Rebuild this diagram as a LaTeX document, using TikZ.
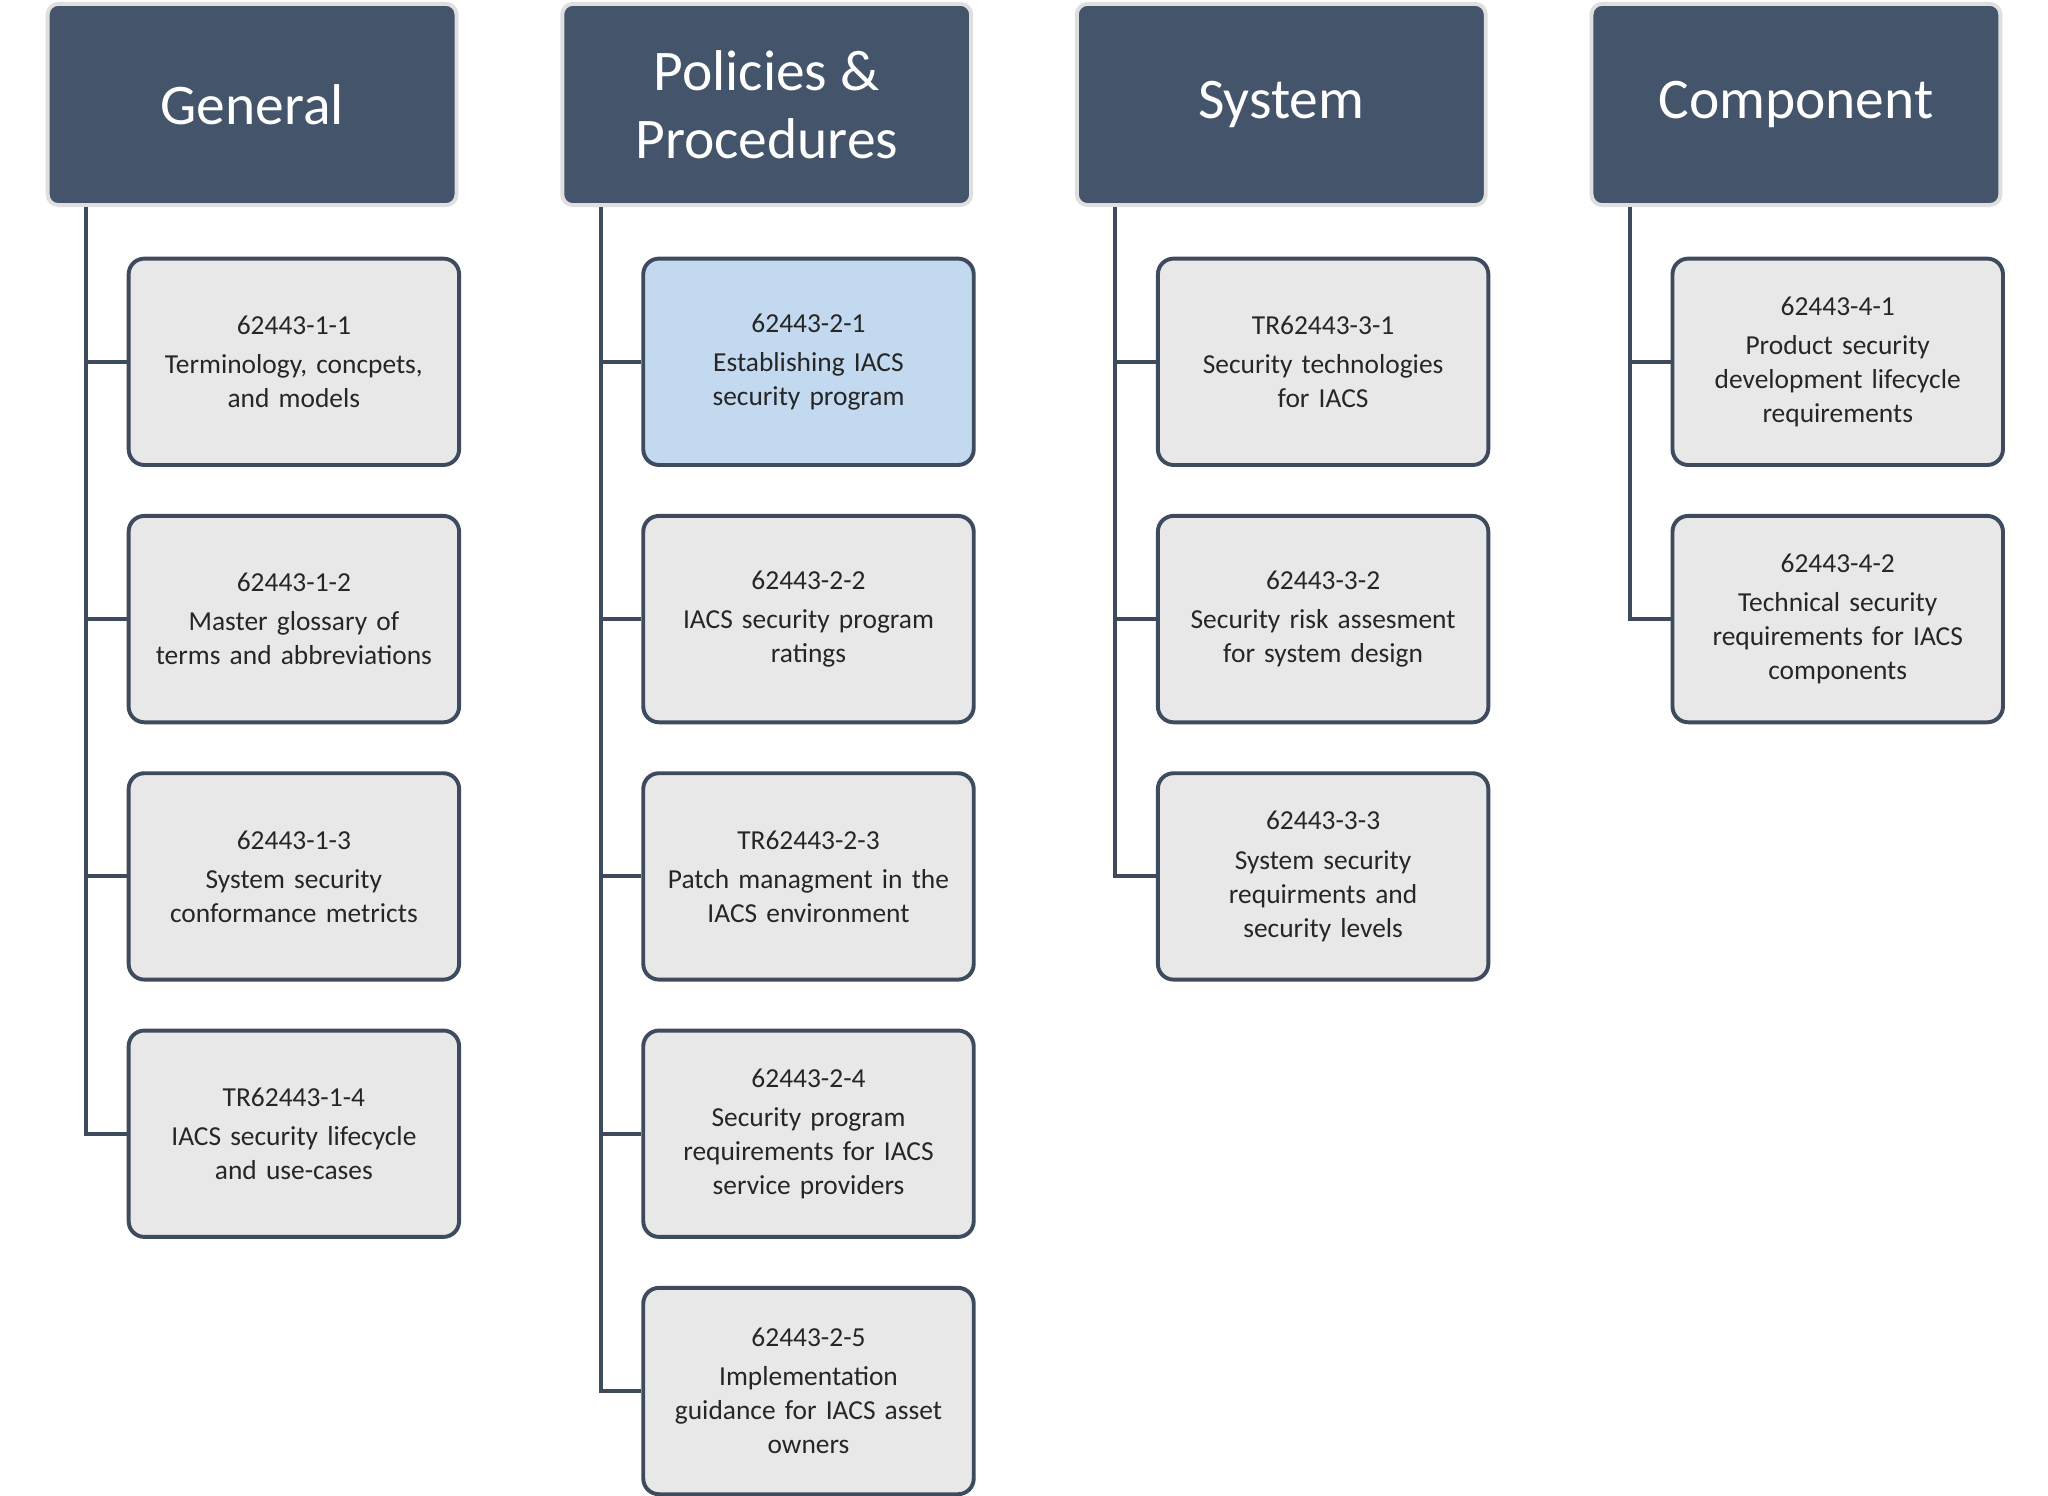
\documentclass[tikz,border=0pt]{standalone}
\usepackage{fontspec}
\setmainfont{Carlito}
\usetikzlibrary{positioning}
\definecolor{headblue}{HTML}{44546A}
\definecolor{boxgray}{HTML}{E8E8E8}
\definecolor{boxline}{HTML}{3E4B5E}
\definecolor{lightblue}{HTML}{C3D9EF}
\tikzset{
  head/.style={draw=gray!25, line width=3pt, fill=headblue, rounded corners=8pt,
    minimum width=313pt, minimum height=154pt, text=white,
    font=\fontsize{44}{52}\selectfont, align=center},
  item/.style={draw=boxline, line width=3pt, fill=boxgray, rounded corners=12pt,
    minimum width=253pt, minimum height=158pt, text width=245pt, align=center,
    font=\fontsize{21}{26}\selectfont, text=black!85},
  tree/.style={draw=boxline, line width=3pt}
}
\begin{document}
\begin{tikzpicture}[x=1pt, y=-1pt]
    \useasboundingbox (0,0) rectangle (1568,1145);
    % column headers
    \node[head] (General)   at (193,80)  {General};
    \node[head] (Policies)  at (587,80)  {Policies \&\\Procedures};
    \node[head] (System)    at (981,80)  {System};
    \node[head] (Component) at (1375,80) {Component};
    % General
    \node[item] (g1) at (225,277) {62443-1-1\\[4pt]Terminology, concpets,\\and models};
    \node[item] (g2) at (225,474) {62443-1-2\\[4pt]Master glossary of\\terms and abbreviations};
    \node[item] (g3) at (225,671) {62443-1-3\\[4pt]System security\\conformance metricts};
    \node[item] (g4) at (225,868) {TR62443-1-4\\[4pt]IACS security lifecycle\\and use-cases};
    % Policies & Procedures
    \node[item, fill=lightblue] (p1) at (619,277) {62443-2-1\\[4pt]Establishing IACS\\security program};
    \node[item] (p2) at (619,474) {62443-2-2\\[4pt]IACS security program\\ratings};
    \node[item] (p3) at (619,671) {TR62443-2-3\\[4pt]Patch managment in the\\IACS environment};
    \node[item] (p4) at (619,868) {62443-2-4\\[4pt]Security program\\requirements for IACS\\service providers};
    \node[item] (p5) at (619,1065) {62443-2-5\\[4pt]Implementation\\guidance for IACS asset\\owners};
    % System
    \node[item] (s1) at (1013,277) {TR62443-3-1\\[4pt]Security technologies\\for IACS};
    \node[item] (s2) at (1013,474) {62443-3-2\\[4pt]Security risk assesment\\for system design};
    \node[item] (s3) at (1013,671) {62443-3-3\\[4pt]System security\\requirments and\\security levels};
    % Component
    \node[item] (c1) at (1407,277) {62443-4-1\\[4pt]Product security\\development lifecycle\\requirements};
    \node[item] (c2) at (1407,474) {62443-4-2\\[4pt]Technical security\\requirements for IACS\\components};
    % tree lines
    \foreach \h/\list in {General/{g1,g2,g3,g4}, Policies/{p1,p2,p3,p4,p5},
                          System/{s1,s2,s3}, Component/{c1,c2}}{
      \foreach \c in \list{
        \draw[tree] ([xshift=31pt]\h.south west) |- (\c.west);
      }
    }
\end{tikzpicture}
\end{document}
